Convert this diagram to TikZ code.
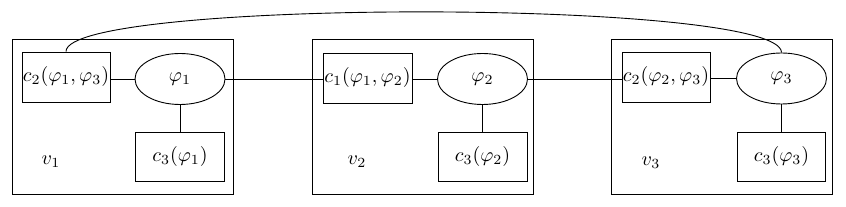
\documentclass[tikz,border=0pt]{standalone}
\usetikzlibrary{shapes.geometric}
\begin{document}
\begin{tikzpicture}[x=0.5pt,y=-0.5pt,
  frame/.style={draw,line width=0.45pt,inner sep=0pt,minimum width=110.5pt,minimum height=77.5pt},
  fbox/.style={draw,line width=0.45pt,inner sep=0pt,minimum width=44pt,minimum height=25pt},
  var/.style={draw,ellipse,line width=0.45pt,inner sep=0pt,minimum width=45pt,minimum height=25.5pt},
  conn/.style={line width=0.45pt},
  lab/.style={inner sep=0pt}]
\useasboundingbox (0,0) rectangle (846,207);
% frames
\node[frame] (V1) at (122.5,116.5) {};
\node[frame] (V2) at (422.5,116.5) {};
\node[frame] (V3) at (721.5,116.5) {};
% nodes
\node[fbox,fill=white] (c2a) at (66,77) {$c_2(\varphi_1,\varphi_3)$};
\node[var,fill=white] (e1) at (180,79) {$\varphi_1$};
\node[fbox,fill=white,minimum width=44.5pt,minimum height=24.5pt] (c3a) at (180,156.5) {$c_3(\varphi_1)$};
\node[fbox,fill=white,minimum width=44.5pt] (c1b) at (367.5,78) {$c_1(\varphi_1,\varphi_2)$};
\node[var,fill=white] (e2) at (482.5,79) {$\varphi_2$};
\node[fbox,fill=white,minimum width=44.5pt,minimum height=24.5pt] (c3b) at (482.5,156.5) {$c_3(\varphi_2)$};
\node[fbox,fill=white] (c2c) at (666,77) {$c_2(\varphi_2,\varphi_3)$};
\node[var,fill=white] (e3) at (781.5,78.5) {$\varphi_3$};
\node[fbox,fill=white,minimum height=24.5pt] (c3c) at (781.5,156.5) {$c_3(\varphi_3)$};
\node[lab] (v1) at (51,162) {$v_1$};
\node[lab] (v2) at (357,162) {$v_2$};
\node[lab] (v3) at (651,163) {$v_3$};
% connectors
\draw[conn] (e1.west) -- (e1.west -| c2a.east);
\draw[conn] (e1.south) -- (e1.south |- c3a.north);
\draw[conn] (e1.east) -- (e1.east -| c1b.west);
\draw[conn] (e2.west) -- (e2.west -| c1b.east);
\draw[conn] (e2.south) -- (e2.south |- c3b.north);
\draw[conn] (e2.east) -- (e2.east -| c2c.west);
\draw[conn] (e3.west) -- (e3.west -| c2c.east);
\draw[conn] (e3.south) -- (e3.south |- c3c.north);
\draw[conn] (c2a.north) .. controls (66,-1.5) and (781.5,-1.5) .. (e3.north);
\end{tikzpicture}
\end{document}
